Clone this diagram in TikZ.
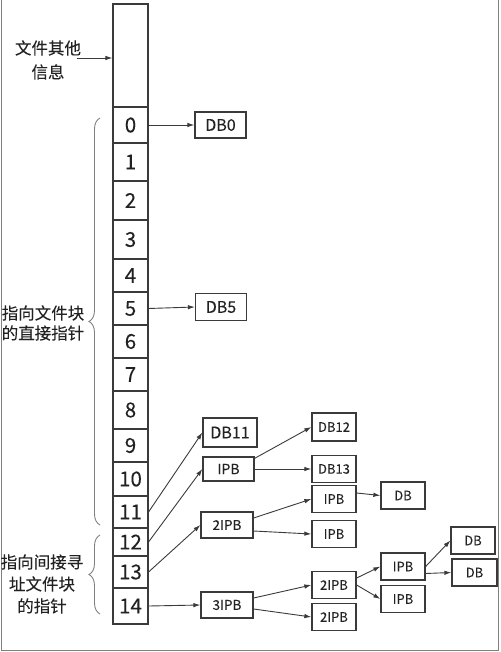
\documentclass[tikz,border=0pt]{standalone}
\usepackage{fontspec}
\setmainfont{Noto Sans CJK SC}[FakeBold=0.1]
\usetikzlibrary{arrows.meta,calc,decorations.pathreplacing}
\definecolor{ln}{HTML}{3A3A3A}
\definecolor{tx}{HTML}{222222}
\begin{document}
\begin{tikzpicture}[x=1pt,y=-1pt,
  cell/.style={draw=ln, line width=1.1pt, minimum width=35pt, inner sep=0pt, text=tx, font=\fontsize{20.5}{24}\selectfont},
  box/.style={draw=ln, line width=1.3pt, inner sep=0pt, text=tx},
  bigbox/.style={box, font=\fontsize{16}{18}\selectfont},
  midbox/.style={box, font=\fontsize{14}{16}\selectfont},
  smallbox/.style={box, minimum width=44pt, minimum height=26.5pt, font=\fontsize{13}{15}\selectfont},
  arr/.style={draw=ln, line width=0.9pt, -{Latex[length=7pt,width=4.5pt]}},
  brc/.style={draw=gray, line width=0.9pt, decorate, decoration={brace,amplitude=11pt}},
  lbl/.style={align=center, text=tx, inner sep=0pt}]
\useasboundingbox (0,0) rectangle (500,652);
\draw[gray, line width=1pt] (1,0) -- (1,650.5) -- (498.5,650.5) -- (498.5,0);

% column of the index node
\node[cell, minimum height=103pt] (hdr) at (130.5,55.5) {};
\node[cell, minimum height=36pt] (c0) at (130.5,125) {0};
\node[cell, minimum height=38pt] (c1) at (130.5,162) {1};
\node[cell, minimum height=39pt] (c2) at (130.5,200.5) {2};
\node[cell, minimum height=39pt] (c3) at (130.5,239.5) {3};
\node[cell, minimum height=33pt] (c4) at (130.5,275.5) {4};
\node[cell, minimum height=33pt] (c5) at (130.5,308.5) {5};
\node[cell, minimum height=33pt] (c6) at (130.5,341.5) {6};
\node[cell, minimum height=33pt] (c7) at (130.5,374.5) {7};
\node[cell, minimum height=38pt] (c8) at (130.5,410) {8};
\node[cell, minimum height=33pt] (c9) at (130.5,445.5) {9};
\node[cell, minimum height=34pt] (c10) at (130.5,479) {10};
\node[cell, minimum height=32pt] (c11) at (130.5,512) {11};
\node[cell, minimum height=28pt] (c12) at (130.5,542) {12};
\node[cell, minimum height=32pt] (c13) at (130.5,572) {13};
\node[cell, minimum height=36pt] (c14) at (130.5,606) {14};

% left labels
\node[lbl, font=\fontsize{16.5}{24}\selectfont] (info) at (48,60) {文件其他\\信息};
\coordinate (infoA) at (77,58);
\draw[arr] (infoA) -- (infoA -| hdr.west);

\node[lbl, font=\fontsize{16.5}{20}\selectfont] (direct) at (43,323) {指向文件块\\的直接指针};
\node[lbl, font=\fontsize{16.5}{22}\selectfont] (indirect) at (42,584) {指向间接寻\\址文件块\\的指针};

\coordinate (b1s) at (100,525);
\coordinate (b1e) at (100,118);
\draw[brc] (b1s) -- (b1e);
\coordinate (b2s) at (100,614);
\coordinate (b2e) at (100,535);
\draw[brc] (b2s) -- (b2e);

% direct blocks
\node[bigbox, minimum width=51pt, minimum height=26pt] (db0) at (220.5,125) {DB0};
\node[bigbox, minimum width=51pt, minimum height=27pt] (db5) at (221,307) {DB5};
\node[bigbox, minimum width=54pt, minimum height=29pt] (db11) at (230,432.5) {DB11};
\node[midbox, minimum width=51pt, minimum height=24pt] (ipb1) at (228.5,469) {IPB};
\node[midbox, minimum width=52pt, minimum height=26pt, font=\fontsize{13.5}{16}\selectfont] (ipb2) at (227,525) {2IPB};
\node[midbox, minimum width=52pt, minimum height=26pt, font=\fontsize{13.5}{16}\selectfont] (ipb3) at (227,605) {3IPB};

\draw[arr] (c0.east) -- (db0.west);
\draw[arr] (c5.east) -- (db5.west);
\draw[arr] (c11.east) -- (db11.west);
\draw[arr] (c12.east) -- (ipb1.west);
\draw[arr] (c13.east) -- (ipb2.west);
\draw[arr] (c14.east) -- (ipb3.west);

% second level
\node[smallbox, minimum height=28pt] (db12) at (334,427) {DB12};
\node[smallbox] (db13) at (334,469) {DB13};
\node[smallbox] (ipbA) at (334,499) {IPB};
\node[smallbox] (ipbB) at (334,534) {IPB};
\node[smallbox] (ipb2A) at (334,585) {2IPB};
\node[smallbox] (ipb2B) at (334,617) {2IPB};

\draw[arr] ($(ipb1.north east)+(0,2)$) -- (db12.west);
\draw[arr] (ipb1.east) -- (db13.west);
\draw[arr] ($(ipb2.east)+(0,-7)$) -- (ipbA.west);
\draw[arr] ($(ipb2.east)+(0,6)$) -- (ipbB.west);
\draw[arr] ($(ipb3.east)+(0,-7)$) -- (ipb2A.west);
\draw[arr] ($(ipb3.east)+(0,4)$) -- (ipb2B.west);

% third level
\node[smallbox, minimum height=27pt] (dbA) at (403,495.5) {DB};
\node[smallbox, minimum height=27pt] (ipbC) at (403,566.5) {IPB};
\node[smallbox] (ipbD) at (403,599) {IPB};

\draw[arr] ($(ipbA.east)+(0,-6)$) -- (dbA.west);
\draw[arr] ($(ipb2A.east)+(0,-7)$) -- (ipbC.west);
\draw[arr] (ipb2A.east) -- (ipbD.west);

% fourth level
\node[smallbox, minimum height=27pt] (dbB) at (473,540.5) {DB};
\node[smallbox, minimum width=45pt, minimum height=27pt] (dbC) at (474.5,572.5) {DB};

\draw[arr] (ipbC.east) -- (dbB.west);
\draw[arr] ($(ipbC.east)+(0,7)$) -- (dbC.west);
\end{tikzpicture}
\end{document}
